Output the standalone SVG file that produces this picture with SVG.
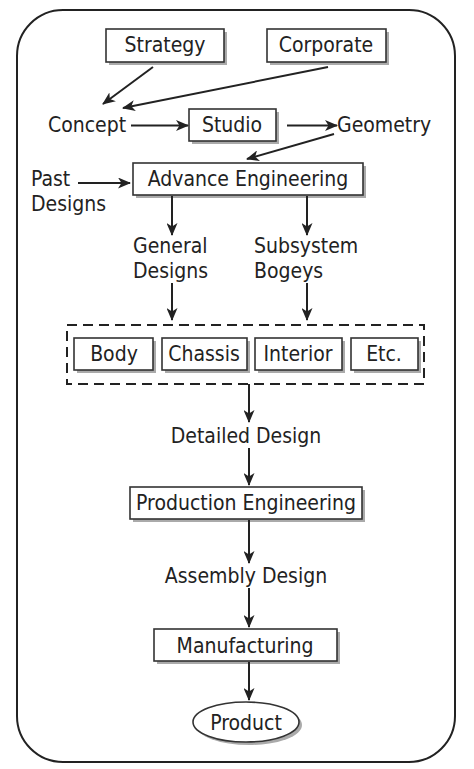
<svg xmlns="http://www.w3.org/2000/svg" width="474" height="769" viewBox="0 0 474 769">
<style>
text{font-family:"DejaVu Sans Condensed","DejaVu Sans",sans-serif;font-size:21px;fill:#222}
.c{text-anchor:middle}
.box{fill:#fff;stroke:#333;stroke-width:1.6}
.sh{fill:#aaa}
.ln{stroke:#222;stroke-width:2;fill:none;marker-end:url(#ah)}
</style>
<defs>
<marker id="ah" markerWidth="13" markerHeight="11" refX="12" refY="5.5" orient="auto" markerUnits="userSpaceOnUse">
<path d="M0,0 L13,5.5 L0,11 L3.5,5.5 z" fill="#222"/>
</marker>
</defs>
<rect x="17" y="10" width="438" height="752" rx="46" ry="46" fill="#fff" stroke="#222" stroke-width="2"/>
<g id="strategy"><rect class="sh" x="109" y="32" width="118" height="33"/><rect class="box" x="106" y="29" width="118" height="33"/><text class="c" x="165" y="52">Strategy</text></g>
<g id="corporate"><rect class="sh" x="270" y="32" width="119" height="33"/><rect class="box" x="267" y="29" width="119" height="33"/><text class="c" x="326" y="52">Corporate</text></g>
<g id="concept"><text x="48" y="132">Concept</text></g>
<g id="studio"><rect class="sh" x="192" y="112" width="87" height="32"/><rect class="box" x="189" y="109" width="87" height="32"/><text class="c" x="232" y="132">Studio</text></g>
<g id="geometry"><text x="337" y="132">Geometry</text></g>
<g id="past"><text x="31" y="186">Past</text><text x="31" y="211">Designs</text></g>
<g id="advance"><rect class="sh" x="136" y="166" width="230" height="32"/><rect class="box" x="133" y="163" width="230" height="32"/><text class="c" x="248" y="186">Advance Engineering</text></g>
<g id="general"><text x="133" y="253">General</text><text x="133" y="278">Designs</text></g>
<g id="subsystem"><text x="254" y="253">Subsystem</text><text x="254" y="278">Bogeys</text></g>
<g id="group"><rect x="67" y="325" width="357" height="59" fill="none" stroke="#222" stroke-width="2" stroke-dasharray="10,6"/></g>
<g id="body"><rect class="sh" x="77" y="341" width="79" height="32"/><rect class="box" x="74" y="338" width="79" height="32"/><text class="c" x="114" y="361">Body</text></g>
<g id="chassis"><rect class="sh" x="165" y="341" width="85" height="32"/><rect class="box" x="162" y="338" width="85" height="32"/><text class="c" x="204" y="361">Chassis</text></g>
<g id="interior"><rect class="sh" x="258" y="341" width="87" height="32"/><rect class="box" x="255" y="338" width="87" height="32"/><text class="c" x="298" y="361">Interior</text></g>
<g id="etc"><rect class="sh" x="354" y="341" width="67" height="32"/><rect class="box" x="351" y="338" width="67" height="32"/><text class="c" x="384" y="361">Etc.</text></g>
<g id="detailed"><text class="c" x="246" y="443">Detailed Design</text></g>
<g id="production"><rect class="sh" x="133" y="490" width="232" height="32"/><rect class="box" x="130" y="487" width="232" height="32"/><text class="c" x="246" y="510">Production Engineering</text></g>
<g id="assembly"><text class="c" x="246" y="583">Assembly Design</text></g>
<g id="manufacturing"><rect class="sh" x="157" y="632" width="183" height="32"/><rect class="box" x="154" y="629" width="183" height="32"/><text class="c" x="245" y="653">Manufacturing</text></g>
<g id="product"><ellipse cx="249" cy="725" rx="53" ry="20" fill="#aaa"/><ellipse class="box" cx="246" cy="722" rx="53" ry="20"/><text class="c" x="246" y="730">Product</text></g>
<g id="connectors">
<path class="ln" d="M153,67 L103,104"/>
<path class="ln" d="M328,67 L123,108"/>
<path class="ln" d="M131,125.5 L188,125.5"/>
<path class="ln" d="M287,125.5 L337,125.5"/>
<path class="ln" d="M334,134 L247,159"/>
<path class="ln" d="M78,183 L130,183"/>
<path class="ln" d="M172,196 L172,235"/>
<path class="ln" d="M307,196 L307,235"/>
<path class="ln" d="M172,283 L172,320"/>
<path class="ln" d="M307,283 L307,320"/>
<path class="ln" d="M249,384 L249,422"/>
<path class="ln" d="M249,448 L249,485"/>
<path class="ln" d="M249,520 L249,563"/>
<path class="ln" d="M249,588 L249,627"/>
<path class="ln" d="M249,662 L249,700"/>
</g>
</svg>
